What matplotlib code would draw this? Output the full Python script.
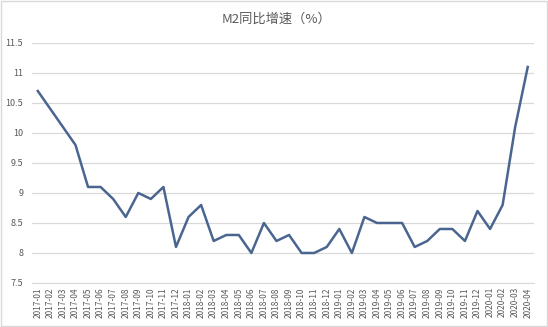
import matplotlib
matplotlib.use("Agg")
import matplotlib.pyplot as plt
from matplotlib.patches import Rectangle

plt.rcParams['font.family'] = ['Noto Sans CJK SC', 'DejaVu Sans']

# ---------- DATA ----------
months = [
    "2017-01", "2017-02", "2017-03", "2017-04", "2017-05", "2017-06", "2017-07", "2017-08",
    "2017-09", "2017-10", "2017-11", "2017-12", "2018-01", "2018-02", "2018-03", "2018-04",
    "2018-05", "2018-06", "2018-07", "2018-08", "2018-09", "2018-10", "2018-11", "2018-12",
    "2019-01", "2019-02", "2019-03", "2019-04", "2019-05", "2019-06", "2019-07", "2019-08",
    "2019-09", "2019-10", "2019-11", "2019-12", "2020-01", "2020-02", "2020-03", "2020-04",
]
m2_growth = [
    10.7, 10.4, 10.1, 9.8, 9.1, 9.1, 8.9, 8.6,
    9.0, 8.9, 9.1, 8.1, 8.6, 8.8, 8.2, 8.3,
    8.3, 8.0, 8.5, 8.2, 8.3, 8.0, 8.0, 8.1,
    8.4, 8.0, 8.6, 8.5, 8.5, 8.5, 8.1, 8.2,
    8.4, 8.4, 8.2, 8.7, 8.4, 8.8, 10.1, 11.1,
]
y_ticks = [7.5, 8, 8.5, 9, 9.5, 10, 10.5, 11, 11.5]
y_labels = ["7.5", "8", "8.5", "9", "9.5", "10", "10.5", "11", "11.5"]
# ---------------------------

fig = plt.figure(figsize=(5.48, 3.27), dpi=100)
fig.patches.append(Rectangle((0.002, 0.003), 0.996, 0.994, transform=fig.transFigure,
                             fill=False, edgecolor="#d9d9d9", linewidth=1))
ax = fig.add_axes([0.0575, 0.1346, 0.917, 0.734])

x = list(range(len(months)))
ax.plot(x, m2_growth, color="#4A6690", linewidth=1.8)

ax.set_xlim(-0.5, len(months) - 0.5)
ax.set_ylim(7.5, 11.5)
ax.set_yticks(y_ticks)
ax.set_yticklabels(y_labels)
ax.set_xticks(x)
ax.set_xticklabels(months, rotation=90)
ax.tick_params(axis="x", labelsize=6, colors="#595959", length=0, pad=3)
ax.tick_params(axis="y", labelsize=6.5, colors="#595959", length=0, pad=6)

ax.grid(axis="y", color="#d9d9d9", linewidth=0.9)
ax.set_axisbelow(True)
for side in ["top", "right", "left"]:
    ax.spines[side].set_visible(False)
ax.spines["bottom"].set_color("#d9d9d9")

fig.text(0.505, 0.94, "M2同比增速（%）", ha="center", va="center",
         fontsize=9.5, color="#595959")

fig.savefig("out.png", dpi=100)
